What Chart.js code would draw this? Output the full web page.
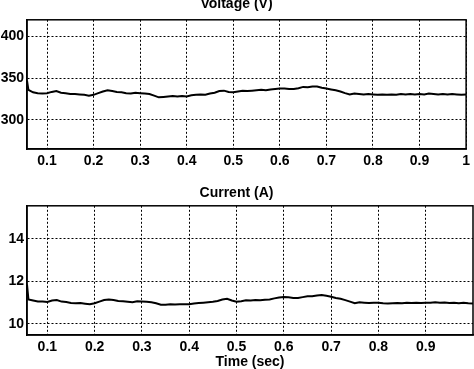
<!DOCTYPE html>
<html lang="en">
<head>
    <meta charset="UTF-8">
    <title>Voltage and Current</title>
    <script src="https://cdn.jsdelivr.net/npm/chart.js"></script>
    <style>
        body {
            margin: 0;
            background-color: #fff;
            width: 474px;
            height: 369px;
            overflow: hidden;
            position: relative;
        }
        .plot {
            position: absolute;
            left: 0;
        }
        #voltagePlot { top: -4px; }
        #currentPlot { top: 185px; }
    </style>
</head>
<body>
    <div id="voltagePlot" class="plot"><canvas id="voltageChart" width="474" height="189"></canvas></div>
    <div id="currentPlot" class="plot"><canvas id="currentChart" width="474" height="186"></canvas></div>

    <script>
        // Time axis (sec)
        const timeValues = [
            0.057, 0.06, 0.07, 0.08, 0.09, 0.10, 0.11, 0.12, 0.13, 0.14,
            0.15, 0.16, 0.17, 0.18, 0.19, 0.20, 0.21, 0.22, 0.23, 0.24,
            0.25, 0.26, 0.27, 0.28, 0.29, 0.30, 0.31, 0.32, 0.33, 0.34,
            0.35, 0.36, 0.37, 0.38, 0.39, 0.40, 0.41, 0.42, 0.43, 0.44,
            0.45, 0.46, 0.47, 0.48, 0.49, 0.50, 0.51, 0.52, 0.53, 0.54,
            0.55, 0.56, 0.57, 0.58, 0.59, 0.60, 0.61, 0.62, 0.63, 0.64,
            0.65, 0.66, 0.67, 0.68, 0.69, 0.70, 0.71, 0.72, 0.73, 0.74,
            0.75, 0.76, 0.77, 0.78, 0.79, 0.80, 0.81, 0.82, 0.83, 0.84,
            0.85, 0.86, 0.87, 0.88, 0.89, 0.90, 0.91, 0.92, 0.93, 0.94,
            0.95, 0.96, 0.97, 0.98, 0.99, 1.00
        ];

        // Voltage (V)
        const voltageValues = [
            347, 336, 333, 332, 331.5, 332, 333.5, 334.5, 332.5, 332,
            331, 331, 330.5, 330, 329, 330, 332, 334, 335.5, 334.5,
            333.5, 333, 332, 331.5, 332.5, 332, 331.5, 331, 329, 327,
            327.5, 328, 328.5, 328, 328.5, 328, 329.5, 330, 330.5, 330,
            331.5, 332.5, 334.5, 335, 333.5, 333, 334, 335, 334.5, 335,
            335.5, 336, 335.5, 336.5, 337, 337.5, 337.5, 337, 337, 338,
            339.5, 339, 340, 340, 338.5, 337.5, 336.5, 335.5, 334, 332,
            330.5, 331.5, 331, 330.5, 331, 330.5, 330, 330.5, 330, 330.5,
            330, 331, 330.5, 331, 330.5, 331, 330.5, 331.5, 331, 330.5,
            331, 330.5, 331, 330.5, 330, 330.5
        ];

        // Current (A)
        const currentValues = [
            11.85, 11.15, 11.1, 11.05, 11.05, 11.03, 11.1, 11.12, 11.05, 11.03,
            10.98, 10.97, 10.98, 10.95, 10.92, 10.97, 11.05, 11.12, 11.15, 11.12,
            11.08, 11.06, 11.04, 11.02, 11.06, 11.05, 11.04, 11.02, 10.97, 10.9,
            10.9, 10.92, 10.91, 10.93, 10.92, 10.92, 10.96, 10.98, 11.0, 11.02,
            11.04, 11.08, 11.15, 11.18, 11.1, 11.04, 11.07, 11.11, 11.1, 11.12,
            11.11, 11.14, 11.15, 11.2, 11.24, 11.27, 11.25, 11.22, 11.22, 11.26,
            11.3, 11.3, 11.34, 11.36, 11.32, 11.28, 11.22, 11.18, 11.12, 11.05,
            10.97, 11.02, 11.0, 10.98, 11.0, 10.99, 10.97, 10.96, 10.97, 10.98,
            10.97, 11.0, 10.98, 11.0, 10.98, 10.99, 11.0, 11.02, 10.99, 11.01,
            10.98, 11.0, 10.97, 10.99, 10.97, 10.96
        ];

        // Tick labels
        const voltageTimeTicks = [0.1, 0.2, 0.3, 0.4, 0.5, 0.6, 0.7, 0.8, 0.9, 1];
        const currentTimeTicks = [0.1, 0.2, 0.3, 0.4, 0.5, 0.6, 0.7, 0.8, 0.9];
        const voltageTicks = [300, 350, 400];
        const currentTicks = [10, 12, 14];

        const FONT = '"Liberation Sans Narrow", "Liberation Sans", Arial, sans-serif';

        // draw the full box round the plot area
        const frameBox = {
            id: 'frameBox',
            afterDraw(chart) {
                const a = chart.chartArea;
                const ctx = chart.ctx;
                ctx.save();
                ctx.strokeStyle = '#000';
                ctx.lineWidth = 1.5;
                ctx.strokeRect(a.left, a.top, a.right - a.left, a.bottom - a.top);
                ctx.restore();
            }
        };

        function makeChart(canvasId, cfg) {
            const points = timeValues.map((t, i) => ({ x: t, y: cfg.values[i] }));
            return new Chart(document.getElementById(canvasId), {
                type: 'line',
                data: {
                    datasets: [{
                        data: points,
                        borderColor: '#000',
                        borderWidth: 2,
                        pointRadius: 0,
                        tension: 0,
                        fill: false
                    }]
                },
                options: {
                    responsive: false,
                    animation: false,
                    layout: { padding: { left: 0, right: 1, top: 0, bottom: 0 } },
                    plugins: {
                        legend: { display: false },
                        tooltip: { enabled: false },
                        title: {
                            display: true,
                            text: cfg.title,
                            color: '#000',
                            font: { family: FONT, size: 14, weight: 'bold' },
                            padding: { top: 0, bottom: cfg.titleGap }
                        }
                    },
                    scales: {
                        x: {
                            type: 'linear',
                            min: 0.057,
                            max: 1,
                            afterBuildTicks: scale => {
                                scale.ticks = cfg.xTicks.map(v => ({ value: v }));
                            },
                            afterFit: scale => { scale.height = cfg.xHeight; },
                            grid: { color: '#000', lineWidth: 1, drawTicks: false },
                            border: { display: true, color: '#000', width: 1.5, dash: [2, 2] },
                            ticks: {
                                color: '#000',
                                padding: 4,
                                maxRotation: 0,
                                font: { family: FONT, size: 14, weight: 'bold' },
                                callback: v => String(v)
                            },
                            title: {
                                display: !!cfg.xTitle,
                                text: cfg.xTitle || '',
                                color: '#000',
                                font: { family: FONT, size: 14, weight: 'bold' },
                                padding: { top: 0, bottom: 0 }
                            }
                        },
                        y: {
                            min: cfg.yMin,
                            max: cfg.yMax,
                            afterBuildTicks: scale => {
                                scale.ticks = cfg.yTicks.map(v => ({ value: v }));
                            },
                            afterFit: scale => { scale.width = 27; },
                            grid: { color: '#000', lineWidth: 1, drawTicks: false },
                            border: { display: true, color: '#000', width: 1.5, dash: [2, 2] },
                            ticks: {
                                color: '#000',
                                padding: 3,
                                font: { family: FONT, size: 14, weight: 'bold' }
                            }
                        }
                    }
                },
                plugins: [frameBox]
            });
        }

        makeChart('voltageChart', {
            title: 'Voltage (V)',
            titleGap: 7,
            values: voltageValues,
            xTicks: voltageTimeTicks,
            yTicks: voltageTicks,
            yMin: 265,
            yMax: 420,
            xHeight: 36
        });

        makeChart('currentChart', {
            title: 'Current (A)',
            titleGap: 4,
            values: currentValues,
            xTicks: currentTimeTicks,
            yTicks: currentTicks,
            yMin: 9.48,
            yMax: 15.55,
            xHeight: 36,
            xTitle: 'Time (sec)'
        });
    </script>
</body>
</html>
